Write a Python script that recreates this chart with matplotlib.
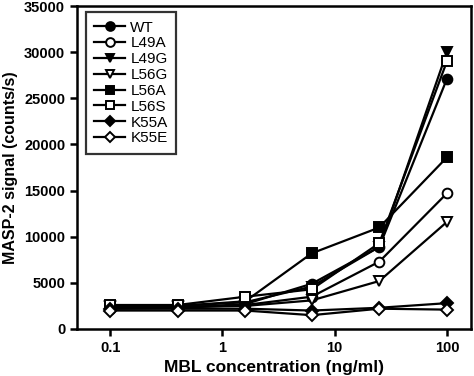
import matplotlib
matplotlib.use("Agg")
import matplotlib.pyplot as plt
import numpy as np

plt.rcParams['font.family'] = ['Liberation Sans', 'DejaVu Sans']

# MBL concentrations (ng/ml), 4-fold dilutions
conc = [0.1, 0.4, 1.6, 6.25, 25, 100]

wt   = [2300, 2300, 2700, 4900, 8900, 27100]
l49a = [2200, 2300, 2600, 3500, 7300, 14700]
l49g = [2500, 2500, 2900, 4600, 8900, 30000]
l56g = [2400, 2400, 2500, 3100, 5200, 11600]
l56a = [2500, 2500, 3000, 8200, 11000, 18600]
l56s = [2600, 2600, 3500, 4300, 9300, 29000]
k55a = [2200, 2200, 2200, 2000, 2300, 2800]
k55e = [2000, 2000, 2000, 1500, 2200, 2100]

series = [
    ("WT", wt, 'o', 'black'),
    ("L49A", l49a, 'o', 'white'),
    ("L49G", l49g, 'v', 'black'),
    ("L56G", l56g, 'v', 'white'),
    ("L56A", l56a, 's', 'black'),
    ("L56S", l56s, 's', 'white'),
    ("K55A", k55a, 'D', 'black'),
    ("K55E", k55e, 'D', 'white'),
]

fig = plt.figure(figsize=(4.74, 3.76), dpi=100)
ax = fig.add_axes([0.1624, 0.125, 0.8313, 0.859])

for name, vals, mk, fc in series:
    ms = 6 if mk == 'D' else 7
    ax.plot(conc, vals, color='black', lw=1.6, marker=mk, ms=ms,
            markerfacecolor=fc, markeredgecolor='black', markeredgewidth=1.4,
            label=name)

ax.set_xscale('log')
ax.set_xlim(0.0507, 164)
ax.set_ylim(0, 35000)
ax.set_xticks([0.1, 1, 10, 100])
ax.set_xticklabels(['0.1', '1', '10', '100'])
ax.xaxis.set_minor_locator(matplotlib.ticker.NullLocator())
ax.set_yticks(np.arange(0, 35001, 5000))

for s in ax.spines.values():
    s.set_linewidth(1.8)
ax.tick_params(width=1.8, length=5, labelsize=10.5, direction='out')
for lbl in ax.get_xticklabels() + ax.get_yticklabels():
    lbl.set_fontweight('bold')

ax.set_xlabel("MBL concentration (ng/ml)", fontsize=12.5, fontweight='bold', labelpad=4)
ax.set_ylabel("MASP-2 signal (counts/s)", fontsize=11.5, fontweight='bold', labelpad=4)

leg = ax.legend(loc='upper left', bbox_to_anchor=(0.023, 0.981), borderaxespad=0,
                prop={'size': 11, 'weight': 'normal'}, markerscale=0.9,
                frameon=True, fancybox=False, edgecolor='black',
                handlelength=2.0, handletextpad=0.35, labelspacing=0.12,
                borderpad=0.55)
leg.get_frame().set_linewidth(1.6)

fig.savefig("out.png", dpi=100)
